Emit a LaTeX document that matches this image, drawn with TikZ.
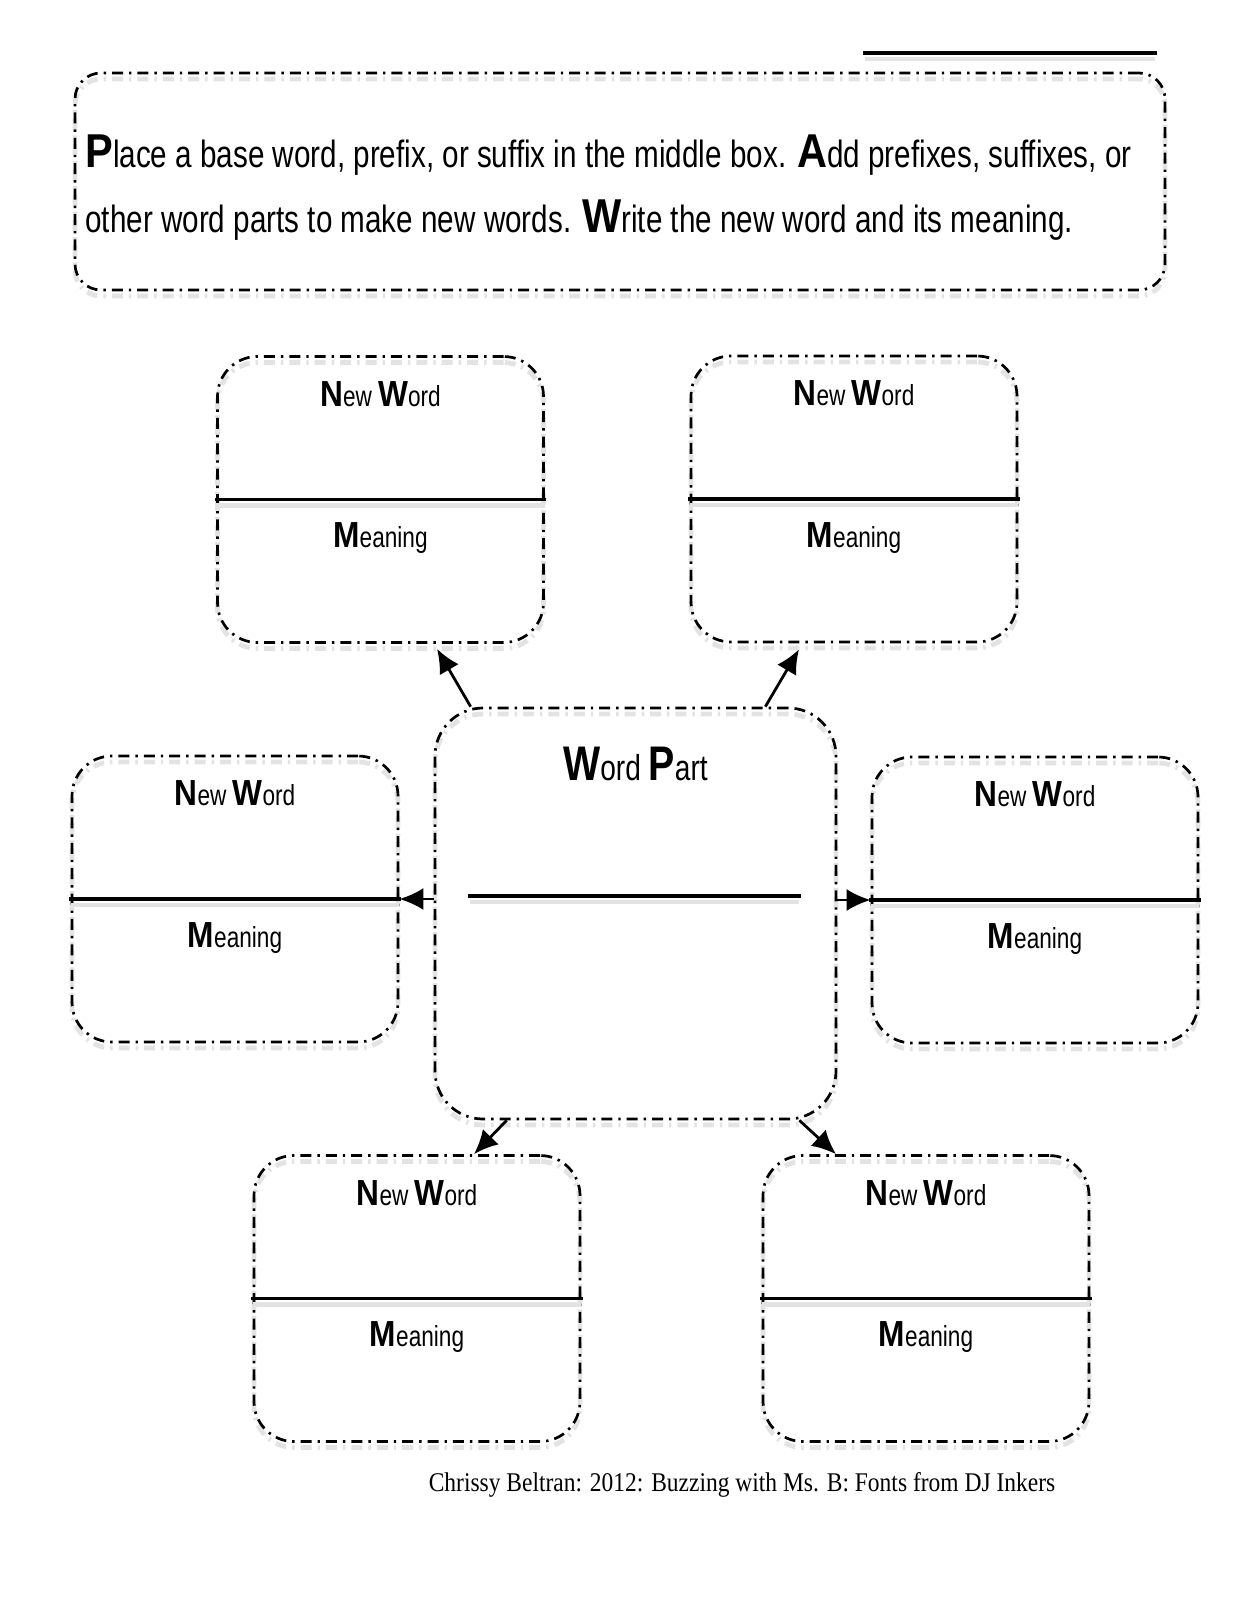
\documentclass[tikz,border=0pt]{standalone}
\usepackage{graphicx}
\usepackage{fontspec}
\setmainfont{Liberation Sans}
\newfontfamily\handfont[FakeStretch=0.78]{Liberation Sans}
\newfontfamily\footfont[FakeStretch=0.87]{Liberation Serif}
\usetikzlibrary{arrows.meta}
\newcommand\deco[2][1.25]{\scalebox{1.4}[#1]{\bfseries #2}}
\tikzset{
  dd/.style={dash pattern=on 5.5pt off 3pt on 1.2pt off 3pt},
  shade line/.style={draw=gray!22, line width=2.4pt, transform canvas={yshift=-3pt}},
  basebox/.style={rectangle, draw=black, dd, line width=1.35pt, inner sep=0pt,
    preaction={shade line}},
  wbox/.style={basebox, rounded corners=20pt, minimum width=163pt, minimum height=143pt},
  divline/.style={line width=1.6pt, line cap=rect, preaction={draw=gray!22, line width=2.4pt, transform canvas={yshift=-3pt}}},
  arr/.style={line width=1.4pt, -{Latex[length=12pt,width=11pt]}},
  lbl/.style={inner sep=0pt, font=\handfont\fontsize{14.5}{15}\selectfont},
}
\begin{document}
\begin{tikzpicture}[x=0.5pt,y=-0.5pt]
\useasboundingbox (0,0) rectangle (1236,1600);
\fill[white] (0,0) rectangle (1236,1600);

% name line top right
\coordinate (s1) at (865,53);
\coordinate (s2) at (1155,53);
\draw[divline] (s1) -- (s2);

% instruction box
\node[basebox, rounded corners=13pt, minimum width=545pt, minimum height=108.5pt] (ins) at (620,181.5) {};
\node[inner sep=0pt, anchor=base west, font=\handfont\fontsize{19}{19}\selectfont] (ins1) at (85,168)
  {\deco{P}lace a base word, prefix, or suffix in the middle box. \deco{A}dd prefixes, suffixes, or};
\node[inner sep=0pt, anchor=base west, font=\handfont\fontsize{19}{19}\selectfont] (ins2) at (85,232)
  {other word parts to make new words. \deco{W}rite the new word and its meaning.};

% center box
\node[basebox, rounded corners=24pt, minimum width=200.5pt, minimum height=205.5pt] (c) at (635.5,913.5) {};
\node[lbl, font=\handfont\fontsize{18}{18}\selectfont] (cw) at ([yshift=-28.5pt]c.north) {\deco[1.35]{W}ord \deco[1.35]{P}art};
\coordinate (cl1) at ([xshift=18pt,yshift=8.75pt]c.west);
\coordinate (cl2) at ([xshift=-19pt,yshift=8.75pt]c.east);
\draw[divline] (cl1) -- (cl2);

% word boxes
\foreach \n/\x/\y in {tl/380.5/499.5, tr/854/499, ml/235/899, mr/1035/900, bl/417/1298.5, br/926/1298.5}{
  \node[wbox] (\n) at (\x,\y) {};
  \draw[divline] (\n.west) -- (\n.east);
  \node[lbl] (\n-nw) at ([yshift=-19.5pt]\n.north) {\deco{N}ew \deco{W}ord};
  \node[lbl] (\n-m) at ([yshift=-19.5pt]\n.center) {\deco{M}eaning};
}

% arrows
\draw[arr] ([xshift=18.5pt]c.north west) -- ([xshift=28.25pt,yshift=-2.5pt]tl.south);
\draw[arr] ([xshift=-36pt]c.north east) -- ([xshift=-27.5pt,yshift=-3pt]tr.south);
\draw[arr] (c.west |- ml.east) -- (ml.east);
\draw[arr] (c.east |- mr.west) -- (mr.west);
\draw[arr] ([xshift=36.5pt]c.south west) -- ([xshift=28.5pt]bl.north);
\draw[arr] ([xshift=-19pt]c.south east) -- ([xshift=-45pt]br.north);

% footer
\node[inner sep=0pt, font=\footfont\fontsize{13.5}{14}\selectfont] (foot) at (742,1485)
  {Chrissy Beltran: 2012: Buzzing with Ms. B: Fonts from DJ Inkers};
\end{tikzpicture}
\end{document}
